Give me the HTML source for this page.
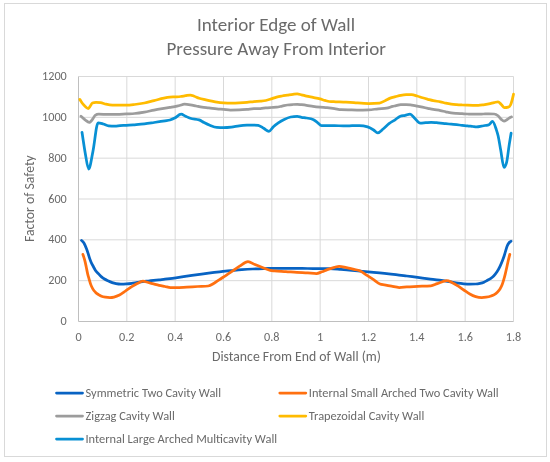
<!DOCTYPE html>
<html><head><meta charset="utf-8"><title>Interior Edge of Wall</title>
<style>
html,body{margin:0;padding:0;background:#fff;width:550px;height:462px;overflow:hidden}
svg{display:block}
text{font-family:Carlito, 'Liberation Sans', sans-serif}
</style></head><body>
<svg width="550" height="462" viewBox="0 0 550 462">
<rect x="0" y="0" width="550" height="462" fill="#fff"/>
<rect x="4.5" y="3.5" width="542" height="453" fill="#fff" stroke="#D9D9D9" stroke-width="1"/>
<g stroke="#D9D9D9" stroke-width="1"><line x1="78.50" y1="280.67" x2="513.50" y2="280.67"/><line x1="78.50" y1="239.83" x2="513.50" y2="239.83"/><line x1="78.50" y1="199.00" x2="513.50" y2="199.00"/><line x1="78.50" y1="158.17" x2="513.50" y2="158.17"/><line x1="78.50" y1="117.33" x2="513.50" y2="117.33"/><line x1="78.50" y1="76.50" x2="513.50" y2="76.50"/><line x1="126.83" y1="76.50" x2="126.83" y2="321.50"/><line x1="175.17" y1="76.50" x2="175.17" y2="321.50"/><line x1="223.50" y1="76.50" x2="223.50" y2="321.50"/><line x1="271.83" y1="76.50" x2="271.83" y2="321.50"/><line x1="320.17" y1="76.50" x2="320.17" y2="321.50"/><line x1="368.50" y1="76.50" x2="368.50" y2="321.50"/><line x1="416.83" y1="76.50" x2="416.83" y2="321.50"/><line x1="465.17" y1="76.50" x2="465.17" y2="321.50"/><line x1="513.50" y1="76.50" x2="513.50" y2="321.50"/></g>
<g stroke="#BFBFBF" stroke-width="1"><line x1="78.5" y1="76.5" x2="78.5" y2="321.5"/><line x1="78.5" y1="321.5" x2="513.5" y2="321.5"/></g>
<g font-size="12.2" fill="#6a6a6a"><text x="66.8" y="325.1" text-anchor="end" textLength="6.19" lengthAdjust="spacingAndGlyphs">0</text><text x="66.8" y="284.3" text-anchor="end" textLength="18.53" lengthAdjust="spacingAndGlyphs">200</text><text x="66.8" y="243.4" text-anchor="end" textLength="18.53" lengthAdjust="spacingAndGlyphs">400</text><text x="66.8" y="202.6" text-anchor="end" textLength="18.53" lengthAdjust="spacingAndGlyphs">600</text><text x="66.8" y="161.8" text-anchor="end" textLength="18.53" lengthAdjust="spacingAndGlyphs">800</text><text x="66.8" y="120.9" text-anchor="end" textLength="24.72" lengthAdjust="spacingAndGlyphs">1000</text><text x="66.8" y="80.1" text-anchor="end" textLength="24.72" lengthAdjust="spacingAndGlyphs">1200</text><text x="78.5" y="341.4" text-anchor="middle" textLength="6.19" lengthAdjust="spacingAndGlyphs">0</text><text x="126.8" y="341.4" text-anchor="middle" textLength="15.44" lengthAdjust="spacingAndGlyphs">0.2</text><text x="175.2" y="341.4" text-anchor="middle" textLength="15.44" lengthAdjust="spacingAndGlyphs">0.4</text><text x="223.5" y="341.4" text-anchor="middle" textLength="15.44" lengthAdjust="spacingAndGlyphs">0.6</text><text x="271.8" y="341.4" text-anchor="middle" textLength="15.44" lengthAdjust="spacingAndGlyphs">0.8</text><text x="320.2" y="341.4" text-anchor="middle" textLength="6.19" lengthAdjust="spacingAndGlyphs">1</text><text x="368.5" y="341.4" text-anchor="middle" textLength="15.44" lengthAdjust="spacingAndGlyphs">1.2</text><text x="416.8" y="341.4" text-anchor="middle" textLength="15.44" lengthAdjust="spacingAndGlyphs">1.4</text><text x="465.2" y="341.4" text-anchor="middle" textLength="15.44" lengthAdjust="spacingAndGlyphs">1.6</text><text x="513.5" y="341.4" text-anchor="middle" textLength="15.44" lengthAdjust="spacingAndGlyphs">1.8</text></g>
<path d="M81.50,240.40 C82.20,241.13 82.90,241.53 83.60,242.60 C84.10,243.36 84.60,244.32 85.10,245.40 C85.57,246.41 86.03,247.57 86.50,248.80 C87.00,250.12 87.50,251.55 88.00,253.10 C88.43,254.44 88.87,256.08 89.30,257.40 C89.87,259.13 90.43,260.65 91.00,262.00 C91.77,263.83 92.53,265.07 93.30,266.50 C94.03,267.87 94.77,269.30 95.50,270.40 C96.53,271.96 97.57,272.78 98.60,273.90 C99.57,274.94 100.53,276.06 101.50,276.90 C102.50,277.77 103.50,278.39 104.50,279.00 C105.60,279.67 106.70,280.17 107.80,280.70 C109.27,281.40 110.73,282.10 112.20,282.60 C113.47,283.03 114.73,283.36 116.00,283.60 C117.63,283.91 119.27,284.10 120.90,284.10 C122.73,284.10 124.57,284.03 126.40,283.90 C128.20,283.77 130.00,283.55 131.80,283.30 C133.63,283.05 135.47,282.69 137.30,282.40 C139.10,282.12 140.90,281.83 142.70,281.60 C144.53,281.36 146.37,281.20 148.20,281.00 C150.00,280.80 151.80,280.60 153.60,280.40 C155.43,280.20 157.27,279.99 159.10,279.80 C161.07,279.59 163.03,279.42 165.00,279.20 C166.67,279.01 168.33,278.81 170.00,278.60 C171.97,278.35 173.93,278.07 175.90,277.80 C179.53,277.29 183.17,276.73 186.80,276.20 C190.43,275.67 194.07,275.12 197.70,274.60 C201.33,274.08 204.97,273.57 208.60,273.10 C212.23,272.63 215.87,272.19 219.50,271.80 C223.30,271.39 227.10,271.06 230.90,270.70 C234.53,270.36 238.17,269.98 241.80,269.70 C245.43,269.42 249.07,269.18 252.70,269.00 C256.33,268.82 259.97,268.70 263.60,268.60 C267.23,268.50 270.87,268.45 274.50,268.40 C278.30,268.35 282.10,268.30 285.90,268.30 C289.53,268.30 293.17,268.37 296.80,268.40 C300.43,268.43 304.07,268.50 307.70,268.50 C311.33,268.50 314.97,268.50 318.60,268.50 C322.23,268.50 325.87,268.50 329.50,268.50 C333.30,268.50 337.10,268.99 340.90,269.30 C344.53,269.60 348.17,269.97 351.80,270.30 C355.43,270.63 359.07,270.95 362.70,271.30 C366.33,271.65 369.97,272.05 373.60,272.40 C377.23,272.75 380.87,273.04 384.50,273.40 C388.30,273.77 392.10,274.15 395.90,274.60 C399.53,275.03 403.17,275.53 406.80,276.00 C410.43,276.47 414.07,276.93 417.70,277.40 C421.33,277.87 424.97,278.35 428.60,278.80 C432.23,279.25 435.87,279.59 439.50,280.10 C441.67,280.41 443.83,280.73 446.00,281.10 C447.97,281.44 449.93,281.85 451.90,282.20 C453.90,282.55 455.90,282.93 457.90,283.20 C459.87,283.46 461.83,283.65 463.80,283.80 C465.80,283.95 467.80,284.10 469.80,284.10 C471.77,284.10 473.73,284.07 475.70,284.00 C477.13,283.95 478.57,283.72 480.00,283.40 C481.33,283.10 482.67,282.77 484.00,282.20 C485.17,281.70 486.33,280.95 487.50,280.30 C488.50,279.74 489.50,279.29 490.50,278.60 C491.57,277.87 492.63,277.11 493.70,276.00 C494.80,274.86 495.90,273.52 497.00,271.80 C498.00,270.23 499.00,268.40 500.00,266.30 C500.83,264.55 501.67,262.66 502.50,260.50 C503.10,258.95 503.70,257.39 504.30,255.50 C504.80,253.92 505.30,251.93 505.80,250.30 C506.27,248.78 506.73,247.16 507.20,246.00 C507.73,244.68 508.27,243.85 508.80,243.10 C509.53,242.06 510.27,241.83 511.00,241.20" fill="none" stroke="#0863C3" stroke-width="2.75" stroke-linejoin="round" stroke-linecap="round"/>
<path d="M82.90,254.30 C83.57,256.47 84.23,258.09 84.90,260.80 C85.37,262.70 85.83,265.08 86.30,267.30 C86.73,269.36 87.17,271.74 87.60,273.60 C88.10,275.75 88.60,277.35 89.10,279.10 C89.63,280.96 90.17,282.90 90.70,284.40 C91.40,286.36 92.10,287.67 92.80,288.90 C93.67,290.42 94.53,291.30 95.40,292.20 C96.43,293.28 97.47,293.93 98.50,294.60 C99.50,295.25 100.50,295.79 101.50,296.20 C102.83,296.75 104.17,296.97 105.50,297.20 C107.00,297.46 108.50,297.60 110.00,297.60 C111.33,297.60 112.67,297.40 114.00,297.10 C115.83,296.69 117.67,296.03 119.50,295.10 C121.67,294.00 123.83,292.18 126.00,290.70 C127.93,289.38 129.87,287.91 131.80,286.70 C133.63,285.55 135.47,284.51 137.30,283.60 C139.17,282.67 141.03,281.20 142.90,281.20 C144.67,281.20 146.43,282.05 148.20,282.50 C150.00,282.95 151.80,283.44 153.60,283.90 C155.43,284.37 157.27,284.88 159.10,285.30 C161.07,285.75 163.03,286.10 165.00,286.50 C166.83,286.87 168.67,287.60 170.50,287.60 C172.30,287.60 174.10,287.60 175.90,287.60 C179.53,287.60 183.17,287.28 186.80,287.10 C190.43,286.92 194.07,286.69 197.70,286.50 C201.20,286.32 204.70,286.33 208.20,286.00 C210.17,285.81 212.13,284.33 214.10,283.20 C215.90,282.17 217.70,280.78 219.50,279.60 C221.83,278.07 224.17,276.65 226.50,275.10 C228.70,273.64 230.90,272.09 233.10,270.60 C235.27,269.13 237.43,267.54 239.60,266.20 C242.40,264.46 245.20,261.60 248.00,261.60 C250.30,261.60 252.60,263.64 254.90,264.60 C257.80,265.80 260.70,266.91 263.60,268.00 C265.80,268.83 268.00,269.93 270.20,270.40 C271.63,270.71 273.07,270.75 274.50,270.90 C278.30,271.28 282.10,271.34 285.90,271.60 C289.53,271.85 293.17,272.18 296.80,272.40 C300.43,272.62 304.07,272.69 307.70,272.90 C310.60,273.07 313.50,273.50 316.40,273.50 C318.23,273.50 320.07,272.46 321.90,271.80 C323.70,271.15 325.50,270.27 327.30,269.60 C329.67,268.72 332.03,267.90 334.40,267.30 C336.00,266.89 337.60,266.30 339.20,266.30 C341.60,266.30 344.00,267.20 346.40,267.70 C348.93,268.23 351.47,268.81 354.00,269.40 C355.93,269.85 357.87,270.00 359.80,270.80 C362.23,271.81 364.67,273.85 367.10,275.40 C369.27,276.78 371.43,278.15 373.60,279.60 C375.73,281.02 377.87,283.15 380.00,284.00 C381.50,284.60 383.00,284.61 384.50,284.90 C386.83,285.35 389.17,285.79 391.50,286.20 C394.07,286.66 396.63,287.50 399.20,287.50 C401.73,287.50 404.27,287.07 406.80,286.90 C410.43,286.66 414.07,286.57 417.70,286.40 C422.07,286.20 426.43,286.20 430.80,285.80 C432.97,285.60 435.13,284.30 437.30,283.60 C440.47,282.57 443.63,280.70 446.80,280.70 C448.50,280.70 450.20,281.64 451.90,282.40 C453.90,283.30 455.90,284.62 457.90,285.90 C459.87,287.16 461.83,288.66 463.80,290.00 C465.80,291.36 467.80,292.89 469.80,294.00 C471.77,295.09 473.73,296.02 475.70,296.60 C477.70,297.19 479.70,297.50 481.70,297.50 C483.13,297.50 484.57,297.40 486.00,297.20 C487.70,296.96 489.40,296.61 491.10,296.00 C492.17,295.62 493.23,295.27 494.30,294.60 C495.30,293.98 496.30,293.20 497.30,292.20 C498.20,291.30 499.10,290.47 500.00,289.00 C500.73,287.80 501.47,286.55 502.20,284.60 C502.77,283.09 503.33,281.21 503.90,279.20 C504.37,277.54 504.83,275.71 505.30,273.80 C505.80,271.76 506.30,269.55 506.80,267.30 C507.27,265.20 507.73,262.84 508.20,260.80 C508.73,258.47 509.27,256.47 509.80,254.30" fill="none" stroke="#FF7010" stroke-width="2.75" stroke-linejoin="round" stroke-linecap="round"/>
<path d="M81.00,116.20 C82.37,117.40 83.73,118.77 85.10,119.80 C86.47,120.83 87.83,122.40 89.20,122.40 C90.40,122.40 91.60,120.50 92.80,118.90 C93.57,117.88 94.33,115.77 95.10,115.30 C96.30,114.57 97.50,114.20 98.70,114.20 C101.73,114.20 104.77,114.40 107.80,114.40 C110.83,114.40 113.87,114.40 116.90,114.40 C120.03,114.40 123.17,114.06 126.30,113.90 C129.07,113.76 131.83,113.75 134.60,113.50 C137.87,113.20 141.13,112.67 144.40,112.10 C147.63,111.54 150.87,110.71 154.10,110.10 C157.37,109.48 160.63,108.95 163.90,108.40 C165.90,108.06 167.90,107.73 169.90,107.40 C171.50,107.13 173.10,106.91 174.70,106.60 C176.33,106.28 177.97,105.90 179.60,105.50 C181.23,105.10 182.87,104.20 184.50,104.20 C186.43,104.20 188.37,104.50 190.30,104.80 C192.27,105.10 194.23,105.60 196.20,106.00 C198.13,106.40 200.07,106.89 202.00,107.20 C204.30,107.57 206.60,107.64 208.90,107.90 C211.53,108.20 214.17,108.64 216.80,108.90 C219.07,109.12 221.33,109.22 223.60,109.40 C225.90,109.58 228.20,110.00 230.50,110.00 C233.40,110.00 236.30,109.97 239.20,109.90 C241.80,109.84 244.40,109.62 247.00,109.40 C249.30,109.21 251.60,108.77 253.90,108.70 C256.07,108.63 258.23,108.67 260.40,108.60 C262.20,108.54 264.00,108.08 265.80,107.90 C267.60,107.72 269.40,107.62 271.20,107.50 C273.00,107.38 274.80,107.40 276.60,107.20 C278.43,107.00 280.27,106.47 282.10,106.10 C283.90,105.74 285.70,105.27 287.50,105.00 C289.30,104.73 291.10,104.62 292.90,104.50 C294.33,104.40 295.77,104.30 297.20,104.30 C298.63,104.30 300.07,104.55 301.50,104.70 C303.17,104.88 304.83,105.06 306.50,105.30 C308.67,105.61 310.83,106.09 313.00,106.40 C315.33,106.73 317.67,106.98 320.00,107.20 C322.37,107.42 324.73,107.48 327.10,107.70 C329.60,107.94 332.10,108.23 334.60,108.60 C336.77,108.92 338.93,109.60 341.10,109.70 C344.07,109.83 347.03,109.85 350.00,109.90 C352.30,109.94 354.60,110.00 356.90,110.00 C360.87,110.00 364.83,109.93 368.80,109.80 C371.97,109.69 375.13,109.08 378.30,108.80 C381.10,108.56 383.90,108.60 386.70,108.20 C388.67,107.92 390.63,106.88 392.60,106.40 C393.53,106.17 394.47,106.00 395.40,105.80 C397.20,105.42 399.00,104.83 400.80,104.70 C402.60,104.57 404.40,104.50 406.20,104.50 C408.00,104.50 409.80,104.84 411.60,105.10 C413.43,105.37 415.27,105.75 417.10,106.10 C418.90,106.45 420.70,106.83 422.50,107.20 C424.30,107.57 426.10,107.93 427.90,108.30 C429.70,108.67 431.50,109.06 433.30,109.40 C435.67,109.85 438.03,110.13 440.40,110.60 C442.20,110.96 444.00,111.42 445.80,111.80 C447.60,112.18 449.40,112.63 451.20,112.90 C453.00,113.17 454.80,113.27 456.60,113.40 C458.43,113.54 460.27,113.60 462.10,113.70 C463.90,113.80 465.70,113.92 467.50,114.00 C469.30,114.08 471.10,114.20 472.90,114.20 C474.70,114.20 476.50,114.20 478.30,114.20 C480.00,114.20 481.70,114.06 483.40,114.00 C485.20,113.93 487.00,113.80 488.80,113.80 C490.60,113.80 492.40,113.87 494.20,114.00 C495.47,114.09 496.73,114.78 498.00,115.80 C499.10,116.68 500.20,118.48 501.30,119.40 C502.20,120.15 503.10,121.10 504.00,121.10 C505.07,121.10 506.13,120.12 507.20,119.50 C508.30,118.86 509.40,117.81 510.50,117.30 C510.83,117.15 511.17,117.03 511.50,116.90" fill="none" stroke="#9C9C9C" stroke-width="2.75" stroke-linejoin="round" stroke-linecap="round"/>
<path d="M79.80,99.40 C80.97,101.07 82.13,103.03 83.30,104.40 C84.97,106.36 86.63,108.50 88.30,108.50 C89.03,108.50 89.77,106.69 90.50,105.70 C91.13,104.84 91.77,103.21 92.40,103.00 C93.60,102.60 94.80,102.40 96.00,102.40 C97.50,102.40 99.00,102.50 100.50,102.70 C102.33,102.94 104.17,103.81 106.00,104.20 C108.13,104.65 110.27,105.10 112.40,105.10 C114.80,105.10 117.20,105.10 119.60,105.10 C121.83,105.10 124.07,105.20 126.30,105.20 C129.07,105.20 131.83,104.82 134.60,104.50 C137.87,104.12 141.13,103.65 144.40,103.00 C147.63,102.35 150.87,101.40 154.10,100.60 C157.37,99.80 160.63,98.84 163.90,98.20 C165.90,97.81 167.90,97.42 169.90,97.20 C171.50,97.03 173.10,97.00 174.70,96.90 C176.67,96.77 178.63,96.74 180.60,96.50 C182.23,96.30 183.87,95.95 185.50,95.70 C187.10,95.45 188.70,95.00 190.30,95.00 C191.60,95.00 192.90,95.74 194.20,96.20 C195.83,96.78 197.47,97.65 199.10,98.20 C201.37,98.96 203.63,99.28 205.90,99.80 C207.87,100.25 209.83,100.69 211.80,101.10 C213.47,101.45 215.13,101.84 216.80,102.10 C219.07,102.46 221.33,102.68 223.60,102.80 C226.20,102.93 228.80,103.00 231.40,103.00 C234.00,103.00 236.60,102.92 239.20,102.80 C241.80,102.68 244.40,102.52 247.00,102.30 C249.30,102.11 251.60,101.79 253.90,101.60 C256.07,101.42 258.23,101.41 260.40,101.20 C262.20,101.02 264.00,100.88 265.80,100.50 C267.60,100.12 269.40,99.47 271.20,98.90 C273.00,98.33 274.80,97.58 276.60,97.10 C278.43,96.61 280.27,96.32 282.10,96.00 C283.90,95.69 285.70,95.47 287.50,95.20 C289.30,94.93 291.10,94.63 292.90,94.40 C294.33,94.21 295.77,93.90 297.20,93.90 C298.63,93.90 300.07,94.47 301.50,94.80 C303.17,95.19 304.83,95.71 306.50,96.10 C308.67,96.61 310.83,96.95 313.00,97.40 C315.33,97.88 317.67,98.27 320.00,98.90 C321.63,99.34 323.27,99.94 324.90,100.40 C326.33,100.80 327.77,101.37 329.20,101.50 C331.37,101.70 333.53,101.71 335.70,101.80 C338.23,101.91 340.77,102.01 343.30,102.10 C345.53,102.18 347.77,102.17 350.00,102.30 C352.30,102.43 354.60,102.73 356.90,102.90 C360.87,103.19 364.83,103.50 368.80,103.50 C372.37,103.50 375.93,103.37 379.50,103.10 C381.50,102.95 383.50,101.45 385.50,100.50 C387.07,99.75 388.63,98.72 390.20,98.10 C391.93,97.41 393.67,97.16 395.40,96.70 C397.20,96.22 399.00,95.63 400.80,95.30 C402.60,94.97 404.40,94.70 406.20,94.70 C408.00,94.70 409.80,94.70 411.60,94.70 C413.43,94.70 415.27,95.48 417.10,96.00 C418.90,96.51 420.70,97.25 422.50,97.80 C424.30,98.35 426.10,98.82 427.90,99.30 C429.70,99.78 431.50,100.31 433.30,100.70 C435.67,101.21 438.03,101.29 440.40,101.80 C442.20,102.19 444.00,102.80 445.80,103.20 C447.60,103.60 449.40,103.95 451.20,104.20 C453.00,104.45 454.80,104.57 456.60,104.70 C458.43,104.84 460.27,104.92 462.10,105.00 C463.90,105.08 465.70,105.15 467.50,105.20 C469.30,105.25 471.10,105.30 472.90,105.30 C474.70,105.30 476.50,105.30 478.30,105.30 C480.00,105.30 481.70,105.02 483.40,104.80 C485.20,104.56 487.00,104.27 488.80,103.90 C490.60,103.53 492.40,103.00 494.20,102.60 C495.47,102.32 496.73,101.80 498.00,101.80 C499.10,101.80 500.20,103.50 501.30,104.50 C502.37,105.47 503.43,107.70 504.50,107.70 C505.77,107.70 507.03,107.53 508.30,107.20 C509.03,107.01 509.77,106.47 510.50,105.00 C511.03,103.93 511.57,102.17 512.10,100.20 C512.57,98.48 513.03,96.20 513.50,94.20" fill="none" stroke="#FFBB00" stroke-width="2.75" stroke-linejoin="round" stroke-linecap="round"/>
<path d="M82.00,132.30 C83.07,139.17 84.13,146.97 85.20,152.90 C86.37,159.39 87.53,169.00 88.70,169.00 C90.10,169.00 91.50,158.27 92.90,151.60 C94.63,143.34 96.37,122.80 98.10,122.80 C99.83,122.80 101.57,123.50 103.30,124.00 C105.03,124.50 106.77,125.69 108.50,125.80 C110.67,125.93 112.83,126.00 115.00,126.00 C116.67,126.00 118.33,125.70 120.00,125.60 C122.10,125.48 124.20,125.50 126.30,125.40 C129.07,125.26 131.83,125.02 134.60,124.80 C137.87,124.53 141.13,124.29 144.40,123.90 C147.63,123.52 150.87,122.98 154.10,122.50 C157.73,121.96 161.37,121.38 165.00,120.80 C166.67,120.54 168.33,120.48 170.00,120.00 C171.57,119.55 173.13,118.87 174.70,118.10 C176.83,117.05 178.97,114.20 181.10,114.20 C182.57,114.20 184.03,115.55 185.50,116.20 C187.10,116.91 188.70,117.74 190.30,118.30 C193.23,119.32 196.17,118.83 199.10,119.90 C200.73,120.49 202.37,121.68 204.00,122.50 C205.93,123.47 207.87,124.43 209.80,125.20 C212.13,126.13 214.47,127.26 216.80,127.40 C219.07,127.53 221.33,127.60 223.60,127.60 C226.20,127.60 228.80,127.38 231.40,127.10 C234.00,126.82 236.60,126.22 239.20,125.90 C241.80,125.58 244.40,125.35 247.00,125.20 C249.30,125.07 251.60,125.00 253.90,125.00 C255.33,125.00 256.77,125.10 258.20,125.30 C260.03,125.56 261.87,127.27 263.70,128.30 C265.43,129.27 267.17,131.30 268.90,131.30 C270.40,131.30 271.90,128.06 273.40,126.70 C275.03,125.22 276.67,124.03 278.30,122.90 C280.27,121.54 282.23,120.36 284.20,119.40 C286.37,118.35 288.53,117.40 290.70,117.00 C292.87,116.60 295.03,116.40 297.20,116.40 C298.63,116.40 300.07,117.05 301.50,117.30 C303.17,117.60 304.83,117.71 306.50,118.00 C308.67,118.37 310.83,118.47 313.00,119.40 C314.43,120.02 315.87,121.25 317.30,122.30 C318.73,123.35 320.17,125.70 321.60,125.70 C323.43,125.70 325.27,125.60 327.10,125.60 C329.60,125.60 332.10,125.60 334.60,125.60 C337.50,125.60 340.40,125.90 343.30,125.90 C346.23,125.90 349.17,125.77 352.10,125.70 C354.50,125.64 356.90,125.50 359.30,125.50 C362.07,125.50 364.83,125.97 367.60,126.90 C369.60,127.57 371.60,128.74 373.60,130.00 C374.97,130.86 376.33,132.90 377.70,132.90 C379.50,132.90 381.30,130.45 383.10,129.00 C385.07,127.41 387.03,125.22 389.00,123.70 C391.13,122.05 393.27,121.03 395.40,119.60 C397.03,118.50 398.67,116.80 400.30,116.20 C401.93,115.60 403.57,115.67 405.20,115.30 C406.80,114.94 408.40,114.00 410.00,114.00 C411.63,114.00 413.27,117.05 414.90,118.50 C416.70,120.10 418.50,123.10 420.30,123.10 C422.10,123.10 423.90,122.83 425.70,122.70 C427.50,122.57 429.30,122.30 431.10,122.30 C432.90,122.30 434.70,122.54 436.50,122.70 C437.80,122.82 439.10,122.96 440.40,123.10 C442.20,123.29 444.00,123.52 445.80,123.70 C447.60,123.88 449.40,124.03 451.20,124.20 C453.00,124.37 454.80,124.52 456.60,124.70 C458.43,124.88 460.27,125.12 462.10,125.30 C463.90,125.48 465.70,125.60 467.50,125.80 C469.30,126.00 471.10,126.29 472.90,126.50 C474.17,126.65 475.43,126.90 476.70,126.90 C478.30,126.90 479.90,126.48 481.50,126.20 C482.67,125.99 483.83,125.73 485.00,125.50 C486.33,125.23 487.67,125.23 489.00,124.70 C490.17,124.23 491.33,121.50 492.50,121.50 C493.73,121.50 494.97,125.63 496.20,129.30 C496.83,131.18 497.47,133.08 498.10,135.80 C498.97,139.53 499.83,145.43 500.70,150.10 C501.80,156.03 502.90,167.40 504.00,167.40 C504.87,167.40 505.73,165.73 506.60,162.40 C507.47,159.07 508.33,150.45 509.20,144.90 C509.83,140.85 510.47,137.10 511.10,133.20" fill="none" stroke="#0890D4" stroke-width="2.75" stroke-linejoin="round" stroke-linecap="round"/>
<text x="276" y="31.4" font-size="19.05" text-anchor="middle" fill="#6a6a6a" textLength="158.09" lengthAdjust="spacingAndGlyphs">Interior Edge of Wall</text>
<text x="276.2" y="54.6" font-size="19.05" text-anchor="middle" fill="#6a6a6a" textLength="219.36" lengthAdjust="spacingAndGlyphs">Pressure Away From Interior</text>
<text x="296.5" y="360.7" font-size="13.75" text-anchor="middle" fill="#6a6a6a" textLength="169" lengthAdjust="spacingAndGlyphs">Distance From End of Wall (m)</text>
<text transform="translate(34.3,198.6) rotate(-90)" x="0" y="0" font-size="13.75" text-anchor="middle" fill="#6a6a6a" textLength="86.81" lengthAdjust="spacingAndGlyphs">Factor of Safety</text>
<g><line x1="56.5" y1="393" x2="82.5" y2="393" stroke="#0863C3" stroke-width="2.75" stroke-linecap="round"/><text x="85.5" y="396.9" font-size="12.4" fill="#6a6a6a" textLength="135.55" lengthAdjust="spacingAndGlyphs">Symmetric Two Cavity Wall</text><line x1="279.8" y1="393" x2="305.8" y2="393" stroke="#FF7010" stroke-width="2.75" stroke-linecap="round"/><text x="308.8" y="396.9" font-size="12.4" fill="#6a6a6a" textLength="189.81" lengthAdjust="spacingAndGlyphs">Internal Small Arched Two Cavity Wall</text><line x1="56.5" y1="416" x2="82.5" y2="416" stroke="#9C9C9C" stroke-width="2.75" stroke-linecap="round"/><text x="85.5" y="419.9" font-size="12.4" fill="#6a6a6a" textLength="89.3" lengthAdjust="spacingAndGlyphs">Zigzag Cavity Wall</text><line x1="279.8" y1="416" x2="305.8" y2="416" stroke="#FFBB00" stroke-width="2.75" stroke-linecap="round"/><text x="308.8" y="419.9" font-size="12.4" fill="#6a6a6a" textLength="115.47" lengthAdjust="spacingAndGlyphs">Trapezoidal Cavity Wall</text><line x1="56.5" y1="439" x2="82.5" y2="439" stroke="#0890D4" stroke-width="2.75" stroke-linecap="round"/><text x="85.5" y="442.9" font-size="12.4" fill="#6a6a6a" textLength="191.58" lengthAdjust="spacingAndGlyphs">Internal Large Arched Multicavity Wall</text></g>
</svg>
</body></html>
